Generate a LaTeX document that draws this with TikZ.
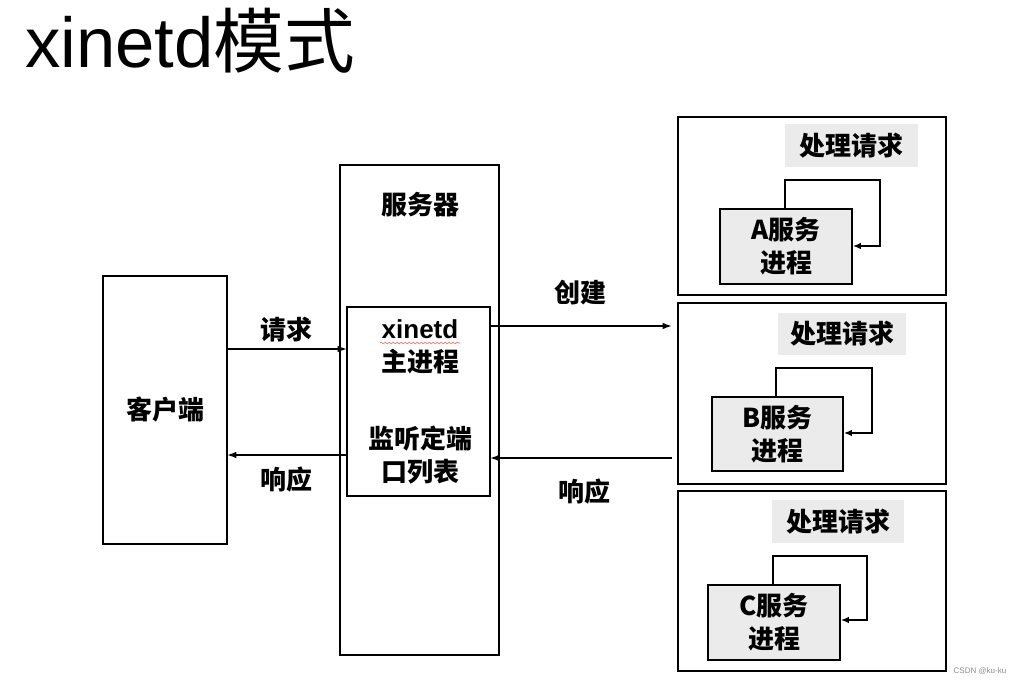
\documentclass[tikz,border=0pt]{standalone}
\usepackage{fontspec}
\setmainfont{Liberation Sans}
\newfontfamily\cjk{Noto Sans CJK SC}
\usetikzlibrary{arrows.meta,decorations.pathmorphing}
\begin{document}
\begin{tikzpicture}[x=0.75pt,y=-0.75pt,
  box/.style={draw,line width=1.3pt},
  lbl/.style={font=\fontsize{19.5}{25}\selectfont\cjk\bfseries,align=center},
  arr/.style={line width=1.2pt,-{Latex[length=7pt,width=5pt]}},
  gbox/.style={fill=black!8}]
\useasboundingbox (0,0) rectangle (1026,684);
\node[anchor=base west,inner sep=0,font=\fontsize{53}{58}\selectfont] (title) at (25,68) {xinetd{\cjk 模式}};
% client
\node[box,minimum width=124*0.75pt,minimum height=268*0.75pt] (cli) at (165,410) {};
\node[lbl] (clit) at (165,410) {客户端};
% server
\node[box,minimum width=159*0.75pt,minimum height=490*0.75pt] (srv) at (419.5,410) {};
\node[lbl] (srvt) at (420,205) {服务器};
\node[box,minimum width=143*0.75pt,minimum height=189*0.75pt] (xin) at (418.5,401.5) {};
\node[lbl] (xt1) at (420,347) {{\fontspec{Liberation Sans}\bfseries xinetd}\\主进程};
\node[lbl] (xt2) at (420,455) {监听定端\\口列表};
\draw[red!70,decorate,decoration={snake,amplitude=0.6pt,segment length=3pt},line width=0.4pt] (380,343) -- (460,343);
% right boxes
\node[box,minimum width=268*0.75pt,minimum height=178*0.75pt] (ra) at (812,206) {};
\node[box,minimum width=268*0.75pt,minimum height=181*0.75pt] (rb) at (812,393.5) {};
\node[box,minimum width=268*0.75pt,minimum height=180*0.75pt] (rc) at (812,581) {};
% arrows
\coordinate (c1) at (227,349); \coordinate (x1) at (347,349);
\draw[arr] (c1) -- (x1);
\node[lbl] (req) at (286,330) {请求};
\coordinate (x2) at (347,455); \coordinate (c2) at (227,455);
\draw[arr] (x2) -- (c2);
\node[lbl] (resp1) at (286,480) {响应};
\coordinate (x3) at (490,326); \coordinate (r3) at (672,326);
\draw[arr] (x3) -- (r3);
\node[lbl] (cr) at (580,293) {创建};
\coordinate (r4) at (672,458); \coordinate (x4) at (490,458);
\draw[arr] (r4) -- (x4);
\node[lbl] (resp2) at (584,492) {响应};
% A
\node[gbox,lbl,minimum width=133*0.75pt,minimum height=43*0.75pt,inner sep=1pt] (ha) at (851,146) {处理请求};
\node[box,gbox,lbl,minimum width=132*0.75pt,minimum height=75*0.75pt,inner sep=0] (pa) at (786,246.5) {A服务\\进程};
\draw[line width=1.2pt,-{Latex[length=6pt,width=5pt]}] (785,209) -- (785,180) -- (880,180) -- (880,246) -- (pa.east|-0,246);
% B
\node[gbox,lbl,minimum width=128*0.75pt,minimum height=42*0.75pt,inner sep=1pt] (hb) at (842,334) {处理请求};
\node[box,gbox,lbl,minimum width=131*0.75pt,minimum height=74*0.75pt,inner sep=0] (pb) at (777.5,434) {B服务\\进程};
\draw[line width=1.2pt,-{Latex[length=6pt,width=5pt]}] (776,397) -- (776,368) -- (872,368) -- (872,433) -- (pb.east|-0,433);
% C
\node[gbox,lbl,minimum width=132*0.75pt,minimum height=43*0.75pt,inner sep=1pt] (hc) at (838,521.5) {处理请求};
\node[box,gbox,lbl,minimum width=132*0.75pt,minimum height=75*0.75pt,inner sep=0] (pc) at (774,622.5) {C服务\\进程};
\draw[line width=1.2pt,-{Latex[length=6pt,width=5pt]}] (773,585) -- (773,556) -- (867,556) -- (867,620) -- (pc.east|-0,620);
\node[font=\fontsize{6}{7}\selectfont,text=black!45] (wm) at (980,671) {CSDN @ku-ku};
\end{tikzpicture}
\end{document}
